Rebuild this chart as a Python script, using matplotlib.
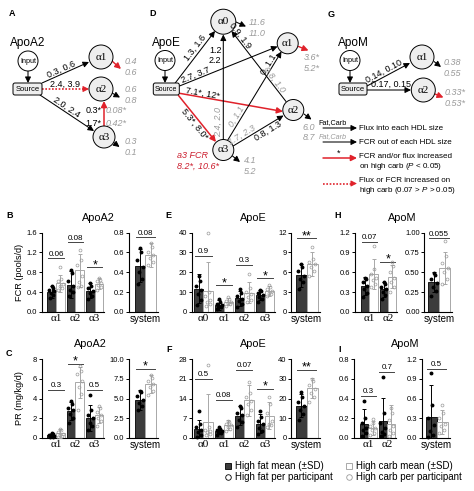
import numpy as np
import matplotlib
matplotlib.use("Agg")
import matplotlib.pyplot as plt
from matplotlib.patches import Circle, FancyBboxPatch

plt.rcParams['font.family'] = ['Liberation Sans', 'DejaVu Sans']
plt.rcParams['mathtext.fontset'] = 'custom'
plt.rcParams['mathtext.rm'] = 'Liberation Sans'
plt.rcParams['mathtext.it'] = 'Liberation Sans:italic'

W, H = 474, 491
RED = '#e0222b'
DARKRED = '#cc1f2f'
GREY = '#9b9b9b'
FAT = '#3c3c3c'
CARB_EDGE = '#a8a8a8'
SERIF = ['Liberation Serif', 'DejaVu Serif']

# ---------------- data ----------------
A2_SIZES = ["α1", "α2", "α3", "system"]
E_SIZES = ["α0", "α1", "α2", "α3", "system"]
M_SIZES = ["α1", "α2", "system"]

# B: ApoA2 FCR (pools/d)
B_FAT = [0.41, 0.55, 0.43, 0.467]
B_FAT_SD = [0.12, 0.27, 0.15, 0.166]
B_CARB = [0.58, 0.84, 0.57, 0.573]
B_CARB_SD = [0.17, 0.33, 0.11, 0.117]
B_FAT_PTS = [[0.28, 0.35, 0.38, 0.42, 0.45, 0.49, 0.52], [0.33, 0.40, 0.45, 0.52, 0.62, 0.78, 0.85],
             [0.27, 0.33, 0.38, 0.42, 0.48, 0.53, 0.58], [0.28, 0.33, 0.40, 0.45, 0.52, 0.60, 0.64]]
B_CARB_PTS = [[0.44, 0.48, 0.52, 0.56, 0.62, 0.67, 0.90], [0.50, 0.53, 0.60, 0.72, 0.95, 1.05, 1.25],
              [0.45, 0.50, 0.55, 0.58, 0.62, 0.65, 0.68], [0.47, 0.50, 0.54, 0.57, 0.60, 0.65, 0.69]]
B_SIG = ["0.06", "0.08", "*", "0.08"]
B_SIG_Y = [1.08, 1.40, 0.90, 0.75]

# E: ApoE FCR (pools/d)
E_FAT = [11.7, 3.7, 6.8, 8.4, 5.55]
E_FAT_SD = [7.3, 2.5, 3.7, 2.5, 1.75]
E_CARB = [10.8, 5.2, 9.7, 10.5, 7.3]
E_CARB_SD = [14.3, 1.8, 5.2, 2.5, 1.8]
E_FAT_PTS = [[3.5, 6.0, 9.0, 11.0, 13.0, 15.5, 18.0], [1.5, 2.5, 3.0, 3.5, 4.0, 5.0, 6.5],
             [2.5, 4.0, 5.5, 6.5, 8.0, 9.5, 11.5], [5.0, 6.5, 7.5, 8.5, 9.5, 10.5, 11.0],
             [3.5, 4.5, 5.0, 5.5, 6.2, 6.8, 7.2]]
E_CARB_PTS = [[3.0, 4.0, 5.0, 6.0, 8.0, 10.0, 40.0], [3.0, 4.0, 4.5, 5.0, 5.5, 6.5, 7.5],
              [5.0, 6.0, 7.5, 9.0, 10.0, 12.0, 19.0], [8.0, 9.0, 9.5, 10.5, 11.5, 12.5, 13.5],
              [5.5, 6.2, 6.8, 7.2, 7.5, 8.0, 9.8]]
E_SIG = ["0.9", "*", "0.3", "*", "**"]
E_SIG_Y = [28.3, 13.4, 23.5, 17.0, 11.1]

# H: ApoM FCR (pools/d)
H_FAT = [0.395, 0.345, 0.375]
H_FAT_SD = [0.14, 0.115, 0.125]
H_CARB = [0.57, 0.535, 0.558]
H_CARB_SD = [0.23, 0.175, 0.20]
H_FAT_PTS = [[0.22, 0.28, 0.35, 0.40, 0.45, 0.50, 0.52], [0.20, 0.25, 0.30, 0.34, 0.38, 0.42, 0.46],
             [0.20, 0.26, 0.32, 0.36, 0.42, 0.46, 0.49]]
H_CARB_PTS = [[0.38, 0.42, 0.48, 0.52, 0.58, 0.65, 1.00], [0.30, 0.38, 0.45, 0.52, 0.60, 0.70, 0.75],
              [0.35, 0.42, 0.50, 0.55, 0.62, 0.70, 0.89]]
H_SIG = ["0.07", "*", "0.055"]
H_SIG_Y = [1.06, 0.76, 0.925]

# C: ApoA2 PR (mg/kg/d)
C_FAT = [0.30, 2.74, 2.0, 4.77]
C_FAT_SD = [0.2, 0.9, 1.3, 1.25]
C_CARB = [0.50, 5.64, 2.33, 6.84]
C_CARB_SD = [0.45, 1.6, 0.85, 1.15]
C_FAT_PTS = [[0.1, 0.15, 0.2, 0.25, 0.3, 0.4, 0.5], [1.5, 2.0, 2.4, 2.8, 3.0, 3.4, 3.7],
             [0.8, 1.2, 1.5, 2.0, 2.3, 2.8, 4.4], [3.5, 4.0, 4.4, 4.8, 5.3, 5.8, 6.0]]
C_CARB_PTS = [[0.1, 0.2, 0.3, 0.4, 0.6, 0.8, 0.9], [2.8, 4.5, 5.2, 5.8, 6.5, 6.8, 7.3],
              [1.2, 1.7, 2.0, 2.3, 2.6, 3.0, 3.2], [5.5, 6.0, 6.5, 6.8, 7.2, 7.6, 8.0]]
C_SIG = ["0.3", "*", "0.5", "*"]
C_SIG_Y = [4.9, 7.5, 4.9, 8.78]

# F: ApoE PR (mg/kg/d)
F_FAT = [3.3, 2.4, 7.9, 5.1, 16.4]
F_FAT_SD = [3.2, 0.9, 3.3, 3.5, 5.9]
F_CARB = [5.7, 4.5, 13.4, 7.9, 25.3]
F_CARB_SD = [9.9, 1.8, 5.5, 4.7, 5.1]
F_FAT_PTS = [[0.5, 1.0, 2.0, 3.0, 4.0, 5.0, 9.5], [1.2, 1.8, 2.2, 2.5, 2.8, 3.2, 3.8],
             [4.0, 5.5, 6.5, 8.0, 9.0, 10.5, 11.5], [1.5, 2.5, 3.5, 5.0, 6.0, 7.5, 9.5],
             [9.0, 12.0, 14.0, 16.0, 18.0, 21.0, 23.5]]
F_CARB_PTS = [[1.0, 1.5, 2.0, 2.5, 3.0, 4.0, 26.0], [2.5, 3.2, 4.0, 4.5, 5.0, 5.5, 6.0],
              [8.0, 10.0, 12.0, 13.0, 14.5, 16.0, 20.0], [4.0, 4.5, 5.0, 6.0, 9.0, 12.0, 14.5],
              [18.0, 21.0, 23.0, 25.0, 27.0, 29.0, 30.0]]
F_SIG = ["0.5", "0.08", "0.07", "*", "**"]
F_SIG_Y = [20.9, 13.4, 24.2, 17.4, 34.6]

# I: ApoM PR (mg/kg/d)
I_FAT = [0.14, 0.17, 0.32]
I_FAT_SD = [0.15, 0.235, 0.49]
I_CARB = [0.098, 0.145, 0.243]
I_CARB_SD = [0.07, 0.185, 0.187]
I_FAT_PTS = [[0.02, 0.05, 0.08, 0.10, 0.15, 0.20, 0.37], [0.02, 0.04, 0.06, 0.10, 0.15, 0.25, 0.62],
             [0.02, 0.05, 0.10, 0.20, 0.30, 0.50, 0.99]]
I_CARB_PTS = [[0.03, 0.05, 0.08, 0.10, 0.12, 0.15, 0.19], [0.02, 0.05, 0.08, 0.12, 0.18, 0.25, 0.30],
              [0.08, 0.12, 0.18, 0.22, 0.30, 0.38, 0.50]]
I_SIG = ["0.3", "0.7", "0.5"]
I_SIG_Y = [0.43, 0.67, 1.05]

# kinetic model numbers (fat, carb)
A2_IN = ["0.3, 0.6", "2.4, 3.9", "2.0, 2.4"]
A2_OUT = [("0.4", "0.6"), ("0.6", "0.8"), ("0.3", "0.1")]
A2_A3A2 = [("0.3*", "0.08*"), ("1.7*", "0.42*")]
E_IN = ["1.3, 1.6", "2.7, 3.7", "7.1*, 12*", "5.3*, 8.0*"]
E_OUT = [("11.6", "11.0"), ("3.6*", "5.2*"), ("6.0", "8.7"), ("4.1", "5.2")]
E_A3A0 = ["1.2", "2.2", "2.4, 2.0"]
E_A3A1 = ["0, 1.1", "0, 1.1"]
E_A2A0 = ["0.9, 1.9", "0.8, 1.0"]
E_A3A2 = ["0.8, 1.3", "1.7, 2.3"]
E_A3_FCR = "8.2*, 10.6*"
M_IN = ["0.14, 0.10", "0.17, 0.15"]
M_OUT = [("0.38", "0.55"), ("0.33*", "0.53*")]

NUM_FS = 6.5

fig = plt.figure(figsize=(W / 100, H / 100), dpi=100)
ov = fig.add_axes([0, 0, 1, 1])
ov.set_xlim(0, W)
ov.set_ylim(H, 0)
ov.axis('off')


def ang(p0, p1):
    a = -np.degrees(np.arctan2(p1[1] - p0[1], p1[0] - p0[0]))
    if a > 90:
        a -= 180
    if a < -90:
        a += 180
    return a


def lab(x, y, s, rot=0, color='k', italic=False, fs=NUM_FS, ha='center', family=None):
    kw = {}
    if family:
        kw['family'] = family
    ov.text(x, y, s, rotation=rot, rotation_mode='anchor', ha=ha, va='center', fontsize=fs,
            color=color, style='italic' if italic else 'normal', zorder=5, **kw)


def along(p0, p1, s, t=0.5, off=4.5, **kw):
    p0 = np.array(p0, float)
    p1 = np.array(p1, float)
    d = p1 - p0
    n = np.array([d[1], -d[0]]) / np.hypot(*d)
    if n[1] > 0:
        n = -n
    c = p0 + t * d + off * n
    lab(c[0], c[1], s, ang(p0, p1), **kw)


def arrow(p0, p1, color='k', dotted=False, lw=0.75):
    p0 = np.array(p0, float)
    p1 = np.array(p1, float)
    if dotted:
        u = (p1 - p0) / np.hypot(*(p1 - p0))
        mid = p1 - u * 4
        ov.plot([p0[0], mid[0]], [p0[1], mid[1]], color=color, lw=1.2, ls=(0, (1, 1)), zorder=2)
        p0 = mid - u * 0.5
    ov.annotate('', xy=p1, xytext=p0,
                arrowprops=dict(arrowstyle='-|>,head_length=0.5,head_width=0.25', color=color,
                                lw=lw, mutation_scale=7, shrinkA=0, shrinkB=0), zorder=2)


def node(xy, r, label, fc='#eeeeee', fs=8, family=SERIF):
    ov.add_patch(Circle(xy, r, fc=fc, ec='k', lw=0.7, zorder=3))
    ov.text(xy[0], xy[1], label, ha='center', va='center', fontsize=fs, family=family, zorder=4)


def source(cx, cy, w=29, h=12, fs=5.5):
    ov.add_patch(FancyBboxPatch((cx - w / 2, cy - h / 2), w, h,
                                boxstyle='round,pad=0,rounding_size=2',
                                fc='#eeeeee', ec='k', lw=0.7, zorder=3))
    ov.text(cx, cy, 'Source', ha='center', va='center', fontsize=fs, zorder=4)


def letter(x, y, s):
    ov.text(x, y, s, fontsize=6.5, weight='bold', ha='center', va='center')


def out_labels(x, y, pair):
    lab(x, y, pair[0], color=GREY, italic=True)
    lab(x, y + 11, pair[1], color=GREY, italic=True)


# ---------------- panel A ----------------
letter(12, 13, 'A')
lab(28, 43, 'ApoA2', fs=8.5)
node((28, 61), 10, 'Input', fc='white', fs=5.2, family=['Liberation Sans'])
source(27.5, 89)
arrow((28, 71), (28, 83))
node((101, 57), 12, 'α1')
node((101, 89), 12, 'α2')
node((104, 137), 11, 'α3')
p = [(42, 83), (89, 62)]
arrow(*p)
along(*p, A2_IN[0], t=0.45, off=4.5)
p = [(42, 89), (89, 89)]
arrow(*p, color=RED, dotted=True)
along(*p, A2_IN[1], t=0.5, off=5)
p = [(40, 95), (94, 131)]
arrow(*p)
along(*p, A2_IN[2], t=0.45, off=4.5)
arrow((104, 126), (104, 101), color=RED, lw=1.1)
for k, yy in enumerate([110, 123]):
    lab(101.5, yy, A2_A3A2[k][0], ha='right')
    lab(106, yy, A2_A3A2[k][1], ha='left', color=GREY, italic=True)
arrow((112, 61), (121, 69), color=RED, lw=1.0)
arrow((112, 93), (120, 97.5))
arrow((113, 142), (119.5, 147))
out_labels(131, 61.5, A2_OUT[0])
out_labels(131, 89.5, A2_OUT[1])
out_labels(131, 141.5, A2_OUT[2])

# ---------------- panel D ----------------
letter(153, 13, 'D')
lab(166, 43, 'ApoE', fs=8.5)
node((165, 60.5), 10, 'Input', fc='white', fs=5.2, family=['Liberation Sans'])
source(166.3, 89, w=26, fs=5.0)
arrow((165, 70.5), (165, 83))
node((223.3, 21.7), 12.5, 'α0')
node((287.7, 43.3), 10.5, 'α1')
node((293.3, 110), 10.5, 'α2')
node((223.3, 150), 10.5, 'α3')
p = [(175, 83.3), (215, 31)]
arrow(*p)
along(*p, E_IN[0], t=0.62, off=5.5)
p = [(179.5, 86), (277.5, 46.5)]
arrow(*p)
along(*p, E_IN[1], t=0.18, off=4)
p = [(179.5, 93.3), (283, 111.5)]
arrow(*p, color=RED, lw=1.1)
along(*p, E_IN[2], t=0.22, off=4.5)
p = [(178.5, 95.5), (216, 142)]
arrow(*p, color=RED, lw=1.1)
along(*p, E_IN[3], t=0.55, off=-5.5)
p = [(223.3, 139.5), (223.3, 34.5)]
arrow(*p)
lab(221.5, 50, E_A3A0[0], ha='right')
lab(221.5, 60.5, E_A3A0[1], ha='right')
lab(218.5, 121.5, E_A3A0[2], rot=90, color=GREY, italic=True)
p = [(227.5, 140.5), (281.5, 51.5)]
arrow(*p)
along(*p, E_A3A1[0], t=0.83, off=4.5)
along(*p, E_A3A1[1], t=0.24, off=4.5, color=GREY, italic=True)
p = [(286, 101.5), (231.5, 31)]
arrow(*p)
along(*p, E_A2A0[0], t=0.9, off=4.5)
along(*p, E_A2A0[1], t=0.27, off=4, color=GREY, italic=True)
p = [(231.5, 147), (283.5, 115.5)]
arrow(*p)
along(*p, E_A3A2[0], t=0.65, off=-5)
along(*p, E_A3A2[1], t=0.25, off=4.5, color=GREY, italic=True)
arrow((236, 22), (246, 26.5))
arrow((298.5, 46.5), (308.5, 50.5), color=RED, lw=1.0)
arrow((304, 114), (311.5, 119.5))
arrow((232.5, 156), (240, 162))
out_labels(257, 22, E_OUT[0])
out_labels(312, 57, E_OUT[1])
out_labels(309, 127, E_OUT[2])
out_labels(250, 160.5, E_OUT[3])
lab(177, 155, 'a3 FCR', ha='left', color=DARKRED, italic=True)
lab(177, 166.5, E_A3_FCR, ha='left', color=DARKRED, italic=True)

# ---------------- panel G ----------------
letter(331, 14, 'G')
lab(353, 43, 'ApoM', fs=8.5)
node((350, 60.5), 10, 'Input', fc='white', fs=5.2, family=['Liberation Sans'])
source(353, 89, w=28)
arrow((350, 70.5), (350, 83))
node((422, 57), 12, 'α1')
node((423.3, 90), 12, 'α2')
p = [(367, 86), (410, 63)]
arrow(*p)
along(*p, M_IN[0], t=0.45, off=4.5)
p = [(367, 90), (411, 90)]
arrow(*p)
along(*p, M_IN[1], t=0.55, off=5.5)
arrow((434, 61.5), (441, 67))
arrow((435, 94), (443.5, 97.5), color=RED, lw=1.0)
out_labels(452, 62, M_OUT[0])
out_labels(455, 92, M_OUT[1])

# legend of the model
LEG_FS = 5.8
arrow((323, 128), (357, 128))
ov.text(333, 126.5, 'Fat,Carb', fontsize=5.2, ha='center', va='bottom')
lab(359, 128.5, 'Flux into each HDL size', ha='left', fs=LEG_FS)
arrow((323, 142), (357, 142))
ov.text(333, 140.5, 'Fat,Carb', fontsize=5.2, ha='center', va='bottom', color=GREY, style='italic')
lab(359, 142.5, 'FCR out of each HDL size', ha='left', fs=LEG_FS)
arrow((323, 158), (357, 158), color=RED, lw=1.1)
ov.text(339, 157.5, '*', fontsize=6.5, ha='center', va='bottom')
lab(359, 156, 'FCR and/or flux increased', ha='left', fs=LEG_FS)
lab(359, 166, 'on high carb ($\\it{P}$ < 0.05)', ha='left', fs=LEG_FS)
arrow((323, 183.5), (357, 183.5), color=RED, dotted=True)
lab(359, 180, 'Flux or FCR increased on', ha='left', fs=LEG_FS)
lab(359, 190.5, 'high carb (0.07 > $\\it{P}$ > 0.05)', ha='left', fs=LEG_FS)

# ---------------- bar charts ----------------
JITTER = [-0.11, 0.09, -0.04, 0.12, -0.13, 0.05, 0.0]
BW = 0.45


def px_axes(x0, x1, y0, y1):
    a = fig.add_axes([x0 / W, 1 - y1 / H, (x1 - x0) / W, (y1 - y0) / H])
    a.set_facecolor('none')
    return a


def style(ax, xlim, ylim, ticks, labels):
    ax.set_xlim(*xlim)
    ax.set_ylim(*ylim)
    ax.set_yticks(ticks)
    ax.set_yticklabels(labels, fontsize=5.5)
    for s in ['top', 'right']:
        ax.spines[s].set_visible(False)
    for s in ['left', 'bottom']:
        ax.spines[s].set_linewidth(0.8)
    ax.tick_params(axis='y', length=2.2, width=0.7, pad=1)
    ax.tick_params(axis='x', length=0, pad=1.2)


def draw_bars(ax, names, fat, fat_sd, carb, carb_sd, fat_pts, carb_pts, sig, sig_y):
    pos = np.arange(len(fat))
    ax.bar(pos - BW / 2, fat, BW, color=FAT, edgecolor='k', lw=0.6, zorder=2)
    ax.bar(pos + BW / 2, carb, BW, color='white', edgecolor=CARB_EDGE, lw=0.7, zorder=2)
    ax.errorbar(pos - BW / 2, fat, yerr=fat_sd, fmt='none', ecolor='k', elinewidth=0.7,
                capsize=1.6, capthick=0.7, zorder=3)
    ax.errorbar(pos + BW / 2, carb, yerr=carb_sd, fmt='none', ecolor=CARB_EDGE, elinewidth=0.7,
                capsize=1.6, capthick=0.7, zorder=3)
    for p, fp, cp in zip(pos, fat_pts, carb_pts):
        ax.plot(p - BW / 2 + np.array(JITTER[:len(fp)]), fp, 'o', ms=1.8, color='k',
                zorder=4, clip_on=False)
        ax.plot(p + BW / 2 + np.array(JITTER[:len(cp)]), cp, 'o', ms=2.1, mfc='none',
                mec=GREY, mew=0.5, zorder=4, clip_on=False)
    for p, t, yy in zip(pos, sig, sig_y):
        ax.plot([p - 0.4, p + 0.4], [yy, yy], color='#444444', lw=0.7, clip_on=False)
        if '*' in t:
            ax.annotate(t, (p, yy), xytext=(0, -2.8), textcoords='offset points',
                        ha='center', va='bottom', fontsize=9, annotation_clip=False)
        else:
            ax.annotate(t, (p, yy), xytext=(0, 0.6), textcoords='offset points',
                        ha='center', va='bottom', fontsize=5.8, annotation_clip=False)
    ax.set_xticks(pos)
    if names[0] == 'system':
        ax.set_xticklabels(names, fontsize=7)
    else:
        ax.set_xticklabels(names, fontsize=8, family=SERIF)


def panel(row, lpx, spx, xl, xs, yl, ys, tl, ts, names, fat, fat_sd, carb, carb_sd,
          fat_pts, carb_pts, sig, sig_y):
    y0, y1 = row
    n = len(fat) - 1
    a = px_axes(lpx[0], lpx[1], y0, y1)
    style(a, xl, (0, yl), tl[0], tl[1])
    draw_bars(a, names[:n], fat[:n], fat_sd[:n], carb[:n], carb_sd[:n], fat_pts[:n],
              carb_pts[:n], sig[:n], sig_y[:n])
    b = px_axes(spx[0], spx[1], y0, y1)
    style(b, xs, (0, ys), ts[0], ts[1])
    draw_bars(b, names[n:], fat[n:], fat_sd[n:], carb[n:], carb_sd[n:], fat_pts[n:],
              carb_pts[n:], sig[n:], sig_y[n:])
    return a


ROW1 = (232.5, 312)
ROW2 = (359, 438)

panel(ROW1, (41.7, 104), (129, 158), (-0.74, 2.48), (-0.72, 0.55), 1.6, 0.8,
      ([0, 0.4, 0.8, 1.2, 1.6], ["0.0", "0.4", "0.8", "1.2", "1.6"]),
      ([0, 0.2, 0.4, 0.6, 0.8], ["0.0", "0.2", "0.4", "0.6", "0.8"]),
      A2_SIZES, B_FAT, B_FAT_SD, B_CARB, B_CARB_SD, B_FAT_PTS, B_CARB_PTS, B_SIG, B_SIG_Y)
panel(ROW1, (191.7, 275), (291, 320), (-0.57, 3.5), (-0.65, 0.55), 40, 12,
      ([0, 10, 20, 30, 40], ["0", "10", "20", "30", "40"]),
      ([0, 3, 6, 9, 12], ["0", "3", "6", "9", "12"]),
      E_SIZES, E_FAT, E_FAT_SD, E_CARB, E_CARB_SD, E_FAT_PTS, E_CARB_PTS, E_SIG, E_SIG_Y)
panel(ROW1, (355, 397), (424.3, 451.7), (-0.78, 1.5), (-0.61, 0.51), 1.2, 1.0,
      ([0, 0.3, 0.6, 0.9, 1.2], ["0.0", "0.3", "0.6", "0.9", "1.2"]),
      ([0, 0.25, 0.5, 0.75, 1.0], ["0.00", "0.25", "0.50", "0.75", "1.00"]),
      M_SIZES, H_FAT, H_FAT_SD, H_CARB, H_CARB_SD, H_FAT_PTS, H_CARB_PTS, H_SIG, H_SIG_Y)
panel(ROW2, (41.7, 104), (129, 158), (-0.74, 2.48), (-0.72, 0.55), 8, 10,
      ([0, 2, 4, 6, 8], ["0", "2", "4", "6", "8"]),
      ([0, 2.5, 5, 7.5, 10], ["0.0", "2.5", "5.0", "7.5", "10.0"]),
      A2_SIZES, C_FAT, C_FAT_SD, C_CARB, C_CARB_SD, C_FAT_PTS, C_CARB_PTS, C_SIG, C_SIG_Y)
panel(ROW2, (191.7, 275), (291, 320), (-0.57, 3.5), (-0.65, 0.55), 28, 40,
      ([0, 7, 14, 21, 28], ["0", "7", "14", "21", "28"]),
      ([0, 10, 20, 30, 40], ["0", "10", "20", "30", "40"]),
      E_SIZES, F_FAT, F_FAT_SD, F_CARB, F_CARB_SD, F_FAT_PTS, F_CARB_PTS, F_SIG, F_SIG_Y)
panel(ROW2, (354, 396), (421.7, 450), (-0.78, 1.5), (-0.61, 0.55), 0.8, 1.2,
      ([0, 0.2, 0.4, 0.6, 0.8], ["0.0", "0.2", "0.4", "0.6", "0.8"]),
      ([0, 0.3, 0.6, 0.9, 1.2], ["0.0", "0.3", "0.6", "0.9", "1.2"]),
      M_SIZES, I_FAT, I_FAT_SD, I_CARB, I_CARB_SD, I_FAT_PTS, I_CARB_PTS, I_SIG, I_SIG_Y)

# panel letters / titles / y labels
for (x, y, s) in [(10, 216, 'B'), (168, 216, 'E'), (338, 216, 'H'),
                  (9, 353, 'C'), (169, 350, 'F'), (340, 349, 'I')]:
    letter(x, y, s)
for (x, y, s) in [(98, 218, 'ApoA2'), (253, 218, 'ApoE'), (402, 218, 'ApoM'),
                  (90, 344, 'ApoA2'), (253, 344, 'ApoE'), (405, 344, 'ApoM')]:
    lab(x, y, s, fs=7.8)
lab(20, 272, 'FCR (pools/d)', rot=90, fs=6.6)
lab(20, 398, 'PR (mg/kg/d)', rot=90, fs=6.6)

# bottom legend
ov.plot([228.5], [466], 's', ms=4.8, mfc=FAT, mec='k', mew=0.6)
lab(235, 466, 'High fat mean (±SD)', ha='left', fs=7)
ov.plot([228.5], [477], 'o', ms=4.0, mfc='white', mec='k', mew=0.6)
lab(235, 477, 'High fat per participant', ha='left', fs=7)
ov.plot([349.5], [466], 's', ms=4.8, mfc='white', mec=GREY, mew=0.6)
lab(356, 466, 'High carb mean (±SD)', ha='left', fs=7)
ov.plot([349.5], [477], 'o', ms=4.0, mfc='white', mec=GREY, mew=0.6)
lab(356, 477, 'High carb per participant', ha='left', fs=7)

fig.savefig('out.png', dpi=100)
